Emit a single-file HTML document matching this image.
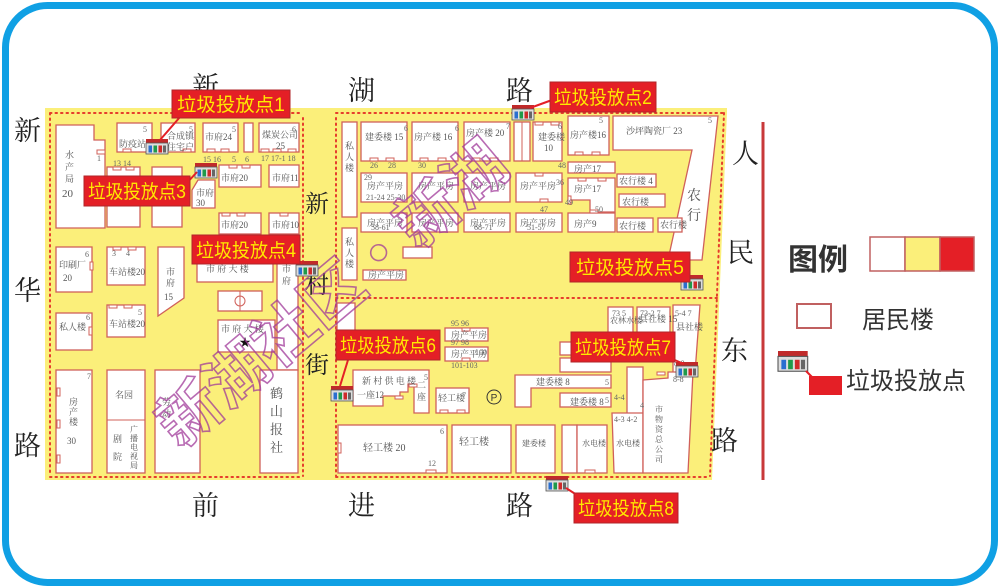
<!DOCTYPE html>
<html><head><meta charset="utf-8"><style>
html,body{margin:0;padding:0;background:#fff;width:1000px;height:588px;overflow:hidden}
svg{display:block}
.b{fill:#fff;stroke:#d0605a;stroke-width:1.3}
.d{fill:#fff;stroke:#d0605a;stroke-width:1}
.t{font-family:"Liberation Serif","Noto Serif CJK SC",serif;fill:#555;font-size:9px}
.n{font-family:"Liberation Serif","Noto Serif CJK SC",serif;fill:#666;font-size:8px}
.r{font-family:"Liberation Serif","Noto Serif CJK SC",serif;fill:#222;font-size:27px}
.lab{fill:#e41f26;stroke:#b0262a;stroke-width:1}
.lt{font-family:"Liberation Sans","Noto Sans CJK SC",sans-serif;fill:#ffe800;font-size:19px}
.dot{fill:none;stroke:#e53c2c;stroke-width:2;stroke-dasharray:1.5 4;stroke-linecap:round}
</style></head><body>
<svg width="1000" height="588" viewBox="0 0 1000 588" xmlns="http://www.w3.org/2000/svg">
<defs>
<g id="bin">
<rect x="0" y="0" width="22" height="5" fill="#c02a2a"/>
<rect x="0" y="4" width="22" height="11" fill="#ddd" stroke="#555" stroke-width="0.8"/>
<rect x="2.5" y="6.5" width="3.5" height="7" fill="#2a6fd0"/>
<rect x="7.5" y="6.5" width="3.5" height="7" fill="#1f9a4a"/>
<rect x="12.5" y="6.5" width="3.5" height="7" fill="#d02a2a"/>
<rect x="17" y="6.5" width="3" height="7" fill="#666"/>
</g>
</defs>
<rect x="5.5" y="5.5" width="989" height="577" rx="42" fill="#fff" stroke="#10a0e4" stroke-width="7"/>
<polygon points="45,108 727,108 727,112 712,480 45,480" fill="#fbef7a"/>
<path class="dot" d="M50,113 H300 M336,113 H724 M50,113 V476 M303,118 V476 M336,118 V476 M724,113 L710,476 M50,477 H300 M336,477 H710 M336,298 H718"/>
<polygon class="b" points="56,125 94,125 94,140 105,140 105,228 56,228"/>
<rect class="b" x="117" y="123" width="35" height="29"/>
<rect class="b" x="161" y="123" width="34" height="29"/>
<rect class="b" x="203" y="123" width="35" height="29"/>
<rect class="b" x="244" y="123" width="9" height="29"/>
<rect class="b" x="259" y="123" width="40" height="29"/>
<rect class="b" x="107" y="167" width="33" height="60"/>
<rect class="b" x="152" y="167" width="30" height="60"/>
<polygon class="b" points="198,180 215,180 215,208 192,208 192,190"/>
<rect class="b" x="219" y="165" width="42" height="22"/>
<rect class="b" x="269" y="165" width="30" height="22"/>
<rect class="b" x="219" y="213" width="42" height="21"/>
<rect class="b" x="269" y="213" width="30" height="21"/>
<rect class="b" x="56" y="247" width="36" height="45"/>
<rect class="b" x="107" y="247" width="38" height="38"/>
<polygon class="b" points="158,247 184,247 184,298 158,316"/>
<rect class="b" x="197" y="258" width="76" height="24"/>
<rect class="b" x="277" y="247" width="21" height="123"/>
<rect class="b" x="218" y="291" width="44" height="20"/>
<line x1="240" y1="291" x2="240" y2="311" stroke="#d0605a"/>
<circle cx="240" cy="301" r="5" fill="none" stroke="#d0605a"/>
<rect class="b" x="56" y="313" width="36" height="37"/>
<rect class="b" x="107" y="305" width="38" height="32"/>
<rect class="b" x="218" y="320" width="57" height="32"/>
<text x="245" y="347" font-size="14" text-anchor="middle" fill="#111">★</text>
<rect class="b" x="56" y="370" width="36" height="103"/>
<rect class="b" x="107" y="370" width="38" height="103"/>
<line x1="107" y1="420" x2="145" y2="420" stroke="#d0605a"/>
<rect class="b" x="155" y="370" width="45" height="103"/>
<rect class="b" x="260" y="370" width="38" height="103"/>
<rect class="b" x="342" y="122" width="15" height="95"/>
<rect class="b" x="342" y="228" width="15" height="52"/>
<rect class="b" x="361" y="122" width="46" height="39"/>
<rect class="b" x="412" y="122" width="46" height="39"/>
<rect class="b" x="464" y="122" width="46" height="39"/>
<rect class="b" x="514" y="122" width="16" height="39"/>
<line x1="522" y1="122" x2="522" y2="161" stroke="#d0605a"/>
<rect class="b" x="533" y="122" width="29" height="39"/>
<rect class="b" x="568" y="116" width="41" height="39"/>
<polygon class="b" points="613,116 718,116 702,260 668,260 692,150 613,150"/>
<rect class="b" x="361" y="173" width="46" height="29"/>
<rect class="b" x="412" y="173" width="46" height="29"/>
<rect class="b" x="464" y="173" width="46" height="29"/>
<rect class="b" x="516" y="173" width="46" height="29"/>
<rect class="b" x="361" y="213" width="46" height="19"/>
<rect class="b" x="412" y="213" width="46" height="19"/>
<rect class="b" x="464" y="213" width="46" height="19"/>
<rect class="b" x="516" y="213" width="46" height="19"/>
<rect class="b" x="568" y="162" width="47" height="11"/>
<polygon class="b" points="568,178 615,178 615,212 590,212 590,200 568,200"/>
<rect class="b" x="568" y="213" width="47" height="19"/>
<rect class="b" x="617" y="174" width="39" height="13"/>
<rect class="b" x="619" y="194" width="46" height="13"/>
<rect class="b" x="617" y="218" width="36" height="14"/>
<rect class="b" x="658" y="218" width="24" height="14"/>
<rect class="b" x="403" y="247" width="29" height="11"/>
<rect class="b" x="363" y="270" width="43" height="10"/>
<rect class="b" x="337" y="303" width="18" height="30"/>
<rect class="b" x="445" y="328" width="43" height="13"/>
<rect class="b" x="445" y="347" width="43" height="14"/>
<polygon class="b" points="353,370 429,370 429,413 414,413 414,384 408,384 408,392 400,392 400,396 383,396 383,406 353,406"/>
<rect class="b" x="436" y="388" width="33" height="25"/>
<circle cx="494" cy="397" r="7" fill="none" stroke="#333"/>
<text x="494" y="401" font-size="10" text-anchor="middle" fill="#333" font-family="Liberation Sans">P</text>
<polygon class="b" points="515,375 611,375 611,388 531,388 531,407 515,407"/>
<rect class="b" x="560" y="393" width="51" height="14"/>
<rect class="b" x="560" y="342" width="51" height="13"/>
<rect class="b" x="560" y="358" width="51" height="14"/>
<rect class="b" x="608" y="307" width="25" height="26"/>
<rect class="b" x="637" y="307" width="33" height="26"/>
<polygon class="b" points="673,305 700,305 695,373 673,373"/>
<rect class="b" x="627" y="367" width="16" height="50"/>
<polygon class="b" points="612,413 643,413 643,473 614,473"/>
<polygon class="b" points="643,380 668,378 668,372 693,372 688,473 643,473"/>
<rect class="b" x="338" y="425" width="109" height="48"/>
<rect class="b" x="452" y="425" width="59" height="48"/>
<rect class="b" x="516" y="425" width="39" height="48"/>
<rect class="b" x="562" y="425" width="15" height="48"/>
<rect class="b" x="577" y="425" width="30" height="48"/>
<g class="d">
<rect x="97" y="150" width="8" height="4"/><rect x="123" y="149" width="8" height="3"/><rect x="183" y="149" width="8" height="3"/>
<rect x="207" y="149" width="8" height="3"/><rect x="221" y="149" width="8" height="3"/><rect x="261" y="149" width="8" height="3"/><rect x="273" y="149" width="8" height="3"/><rect x="288" y="149" width="8" height="3"/>
<rect x="113" y="167" width="8" height="3"/><rect x="126" y="167" width="8" height="3"/><rect x="229" y="165" width="8" height="3"/><rect x="242" y="165" width="8" height="3"/>
<rect x="280" y="213" width="8" height="3"/><rect x="237" y="213" width="8" height="3"/><rect x="222" y="213" width="8" height="3"/>
<rect x="90" y="262" width="3" height="8"/><rect x="113" y="247" width="8" height="3"/><rect x="128" y="247" width="8" height="3"/>
<rect x="109" y="305" width="8" height="3"/><rect x="124" y="305" width="8" height="3"/><rect x="89" y="327" width="3" height="8"/>
<rect x="57" y="388" width="3" height="8"/><rect x="57" y="420" width="3" height="8"/><rect x="57" y="455" width="3" height="8"/>
<rect x="370" y="158" width="8" height="3"/><rect x="386" y="158" width="8" height="3"/><rect x="420" y="158" width="8" height="3"/><rect x="438" y="158" width="8" height="3"/>
<rect x="472" y="158" width="8" height="3"/><rect x="490" y="158" width="8" height="3"/><rect x="535" y="122" width="8" height="3"/><rect x="551" y="122" width="8" height="3"/>
<rect x="575" y="152" width="8" height="3"/><rect x="592" y="152" width="8" height="3"/><rect x="535" y="173" width="8" height="3"/><rect x="540" y="199" width="8" height="3"/>
<rect x="578" y="178" width="8" height="3"/><rect x="598" y="178" width="8" height="3"/><rect x="568" y="196" width="3" height="8"/><rect x="590" y="210" width="8" height="3"/>
<rect x="462" y="328" width="8" height="3"/><rect x="462" y="358" width="8" height="3"/><rect x="395" y="396" width="8" height="3"/><rect x="409" y="384" width="8" height="3"/>
<rect x="440" y="410" width="8" height="3"/><rect x="457" y="410" width="8" height="3"/><rect x="338" y="443" width="3" height="10"/><rect x="426" y="470" width="10" height="3"/><rect x="585" y="470" width="10" height="3"/><rect x="657" y="372" width="8" height="3"/>
</g>
<g class="t">
<text x="65" y="158">水</text><text x="65" y="170">产</text><text x="65" y="182">局</text><text x="62" y="197" font-size="11">20</text>
<text x="119" y="147">防疫站1</text><text x="167" y="139">合成镇</text><text x="167" y="150">住宅户</text>
<text x="205" y="140">市府24</text><text x="262" y="138">煤炭公司</text><text x="276" y="149">25</text>
<text x="221" y="181">市府20</text><text x="272" y="181">市府11</text><text x="196" y="196">市府</text><text x="196" y="206">30</text>
<text x="221" y="228">市府20</text><text x="272" y="228">市府10</text>
<text x="59" y="268">印刷厂</text><text x="63" y="281">20</text><text x="109" y="275">车站楼20</text>
<text x="166" y="275">市</text><text x="166" y="286">府</text><text x="164" y="300">15</text>
<text x="206" y="272">市  府  大  楼</text><text x="282" y="272">市</text><text x="282" y="284">府</text>
<text x="59" y="330">私人楼</text><text x="109" y="327">车站楼20</text><text x="221" y="332">市  府  大  楼</text>
<text x="69" y="405">房</text><text x="69" y="415">产</text><text x="69" y="425">楼</text><text x="67" y="444">30</text>
<text x="115" y="398">名园</text><text x="113" y="442">剧</text><text x="113" y="460">院</text>
<text x="130" y="432" font-size="8">广</text><text x="130" y="441" font-size="8">播</text><text x="130" y="450" font-size="8">电</text><text x="130" y="459" font-size="8">视</text><text x="130" y="468" font-size="8">局</text>
<text x="162" y="405">劳</text><text x="162" y="417">动</text>
<text x="270" y="398" font-size="13">鹤</text><text x="270" y="416" font-size="13">山</text><text x="270" y="434" font-size="13">报</text><text x="270" y="452" font-size="13">社</text>
<text x="345" y="149">私</text><text x="345" y="160">人</text><text x="345" y="171">楼</text><text x="345" y="245">私</text><text x="345" y="256">人</text><text x="345" y="267">楼</text>
<text x="365" y="140">建委楼 15</text><text x="414" y="140">房产楼 16</text><text x="466" y="136">房产楼 20</text>
<text x="538" y="140">建委楼</text><text x="544" y="151">10</text><text x="570" y="138">房产楼16</text><text x="626" y="134">沙坪陶瓷厂 23</text>
<text x="367" y="189">房产平房</text><text x="418" y="189">房产平房</text><text x="470" y="189">房产平房</text><text x="520" y="189">房产平房</text>
<text x="367" y="226">房产平房</text><text x="418" y="226">房产平房</text><text x="470" y="226">房产平房</text><text x="520" y="226">房产平房</text>
<text x="574" y="172">房产17</text><text x="574" y="192">房产17</text><text x="574" y="227">房产9</text>
<text x="619" y="184">农行楼 4</text><text x="622" y="205">农行楼</text><text x="619" y="229">农行楼</text><text x="660" y="228">农行楼</text>
<text x="687" y="200" font-size="14">农</text><text x="687" y="220" font-size="14">行</text>
<text x="368" y="278">房产平房</text>
<text x="451" y="338">房产平房</text><text x="451" y="357">房产平房</text>
<text x="362" y="384">新 村 供 电 楼</text><text x="357" y="398">一座12</text><text x="417" y="388">二</text><text x="417" y="400">座</text>
<text x="438" y="401">轻工楼</text><text x="536" y="385">建委楼 8</text><text x="570" y="405">建委楼 8</text>
<text x="610" y="323" font-size="8">农林水楼</text><text x="639" y="322">县社楼 15</text><text x="676" y="330">县社楼</text>
<text x="655" y="412" font-size="8">市</text><text x="655" y="422" font-size="8">物</text><text x="655" y="432" font-size="8">资</text><text x="655" y="442" font-size="8">总</text><text x="655" y="452" font-size="8">公</text><text x="655" y="462" font-size="8">司</text>
<text x="363" y="451" font-size="10">轻工楼    20</text><text x="459" y="445" font-size="10">轻工楼</text><text x="522" y="446" font-size="8">建委楼</text><text x="582" y="446" font-size="8">水电楼</text><text x="616" y="446" font-size="8">水电楼</text>
</g>
<g class="n">
<text x="97" y="161">1</text><text x="113" y="166">13 14</text><text x="203" y="162">15 16</text><text x="232" y="162">5</text><text x="245" y="162">6</text>
<text x="261" y="161">17  17-1 18</text><text x="143" y="132">5</text><text x="189" y="132">5</text><text x="232" y="132">5</text><text x="292" y="132">6</text>
<text x="112" y="256">3</text><text x="126" y="256">4</text><text x="85" y="257">6</text><text x="138" y="315">5</text><text x="86" y="320">6</text><text x="87" y="379">7</text>
<text x="370" y="168">26</text><text x="388" y="168">28</text><text x="418" y="168">30</text><text x="558" y="168">48</text><text x="599" y="123">5</text><text x="708" y="123">5</text>
<text x="364" y="180">29</text><text x="556" y="185">36</text><text x="540" y="212">47</text><text x="565" y="205">49</text><text x="595" y="212">50</text>
<text x="404" y="131">6</text><text x="455" y="131">6</text><text x="506" y="129">7</text><text x="558" y="129">6</text>
<text x="366" y="200">21-24  25-30</text><text x="371" y="230">58-61</text><text x="474" y="230">68-71</text><text x="527" y="230">51-57</text>
<text x="451" y="326">95   96</text><text x="451" y="345">97   98</text><text x="475" y="355">100</text><text x="451" y="368">101-103</text>
<text x="424" y="380">5</text><text x="462" y="398">7</text><text x="605" y="385">5</text><text x="605" y="403">5</text><text x="440" y="434">6</text><text x="428" y="466">12</text>
<text x="612" y="316">73  5</text><text x="640" y="316">73-2 7</text><text x="675" y="316">5-4  7</text><text x="674" y="366">8-9</text><text x="673" y="382">8-8</text>
<text x="614" y="422">4-3  4-2</text><text x="640" y="408">4</text><text x="614" y="400">4-4</text>
</g>
<g class="r">
<text x="192" y="96">新</text><text x="348" y="100">湖</text><text x="506" y="100">路</text>
<text x="14" y="140">新</text><text x="14" y="300">华</text><text x="14" y="455">路</text>
<text x="192" y="515">前</text><text x="348" y="515">进</text><text x="506" y="515">路</text>
<text x="732" y="163">人</text><text x="727" y="262">民</text><text x="721" y="360">东</text><text x="711" y="450">路</text>
<text x="305" y="212" font-size="24">新</text><text x="305" y="293" font-size="24">村</text><text x="305" y="373" font-size="24">街</text>
</g>
<text x="0" y="0" transform="translate(180,450) rotate(-40)" font-size="62" font-weight="bold" fill="none" stroke="#a03a9a" stroke-width="1.6" stroke-opacity="0.75" style="font-family:'Noto Sans CJK SC',sans-serif">新湖社区·新湖</text>
<line x1="763" y1="122" x2="763" y2="480" stroke="#c8383a" stroke-width="3"/>
<text x="788" y="270" font-family="'Noto Sans CJK SC',sans-serif" font-size="30" font-weight="bold" fill="#333">图例</text>
<rect x="870" y="237" width="35" height="34" fill="#fff" stroke="#c06060" stroke-width="1.5"/>
<rect x="905" y="237" width="35" height="34" fill="#fbef7a" stroke="#c06060" stroke-width="1.5"/>
<rect x="940" y="237" width="34" height="34" fill="#e41f26" stroke="#c06060" stroke-width="1.5"/>
<rect x="797" y="304" width="34" height="24" fill="#fff" stroke="#c06060" stroke-width="2"/>
<text x="862" y="328" font-family="'Noto Sans CJK SC',sans-serif" font-size="24" fill="#333">居民楼</text>
<use href="#bin" transform="translate(778,351) scale(1.35)"/>
<line x1="806" y1="371" x2="812" y2="377" stroke="#e41f26" stroke-width="2"/>
<rect x="809" y="376" width="33" height="19" fill="#e41f26"/>
<text x="846" y="389" font-family="'Noto Sans CJK SC',sans-serif" font-size="24" fill="#333">垃圾投放点</text>
<use href="#bin" x="146" y="139"/><use href="#bin" x="512" y="105"/><use href="#bin" x="195" y="163"/><use href="#bin" x="296" y="261"/>
<use href="#bin" x="681" y="275"/><use href="#bin" x="331" y="386"/><use href="#bin" x="676" y="362"/><use href="#bin" x="546" y="476"/>
<g stroke="#e41f26" stroke-width="2">
<line x1="180" y1="117" x2="160" y2="140"/><line x1="552" y1="100" x2="530" y2="108"/><line x1="185" y1="185" x2="197" y2="172"/>
<line x1="290" y1="255" x2="302" y2="263"/><line x1="680" y1="270" x2="690" y2="276"/><line x1="348" y1="360" x2="340" y2="386"/>
<line x1="670" y1="358" x2="684" y2="364"/><line x1="566" y1="488" x2="580" y2="497"/>
</g>
<g>
<rect class="lab" x="172" y="90" width="118" height="28"/><text class="lt" x="177" y="111" textLength="108" lengthAdjust="spacingAndGlyphs">垃圾投放点1</text>
<rect class="lab" x="550" y="82" width="106" height="30"/><text class="lt" x="554" y="104" textLength="98" lengthAdjust="spacingAndGlyphs">垃圾投放点2</text>
<rect class="lab" x="84" y="176" width="106" height="30"/><text class="lt" x="88" y="198" textLength="98" lengthAdjust="spacingAndGlyphs">垃圾投放点3</text>
<rect class="lab" x="192" y="235" width="108" height="29"/><text class="lt" x="196" y="257" textLength="100" lengthAdjust="spacingAndGlyphs">垃圾投放点4</text>
<rect class="lab" x="570" y="252" width="120" height="30"/><text class="lt" x="576" y="274" textLength="108" lengthAdjust="spacingAndGlyphs">垃圾投放点5</text>
<rect class="lab" x="336" y="330" width="104" height="30"/><text class="lt" x="340" y="352" textLength="96" lengthAdjust="spacingAndGlyphs">垃圾投放点6</text>
<rect class="lab" x="571" y="332" width="104" height="30"/><text class="lt" x="575" y="354" textLength="96" lengthAdjust="spacingAndGlyphs">垃圾投放点7</text>
<rect class="lab" x="574" y="493" width="104" height="30"/><text class="lt" x="578" y="515" textLength="96" lengthAdjust="spacingAndGlyphs">垃圾投放点8</text>
</g>
</svg>
</body></html>
